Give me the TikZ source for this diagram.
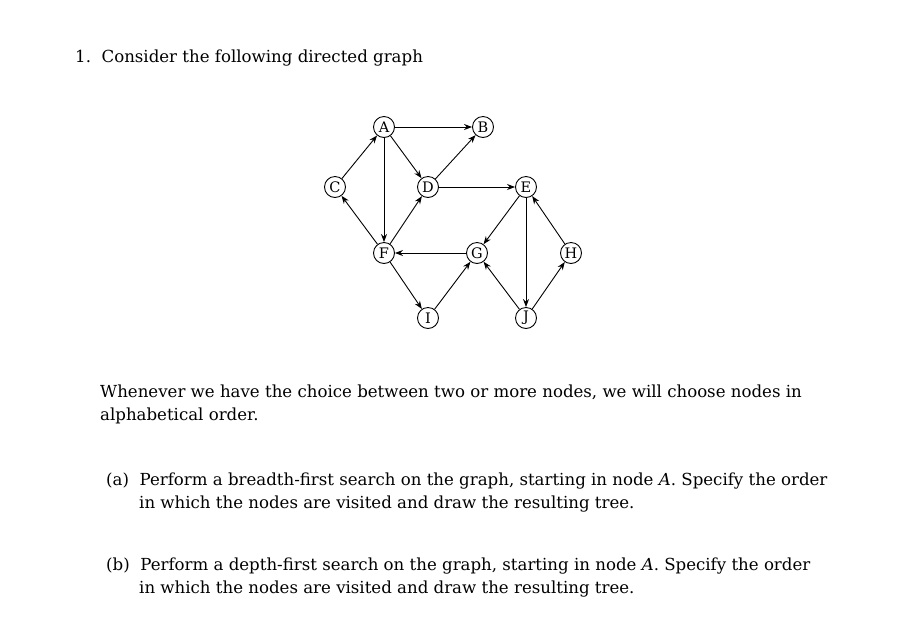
\documentclass[tikz,border=0pt]{standalone}
\usepackage{fontspec}
\setmainfont{DejaVu Serif}
\usetikzlibrary{arrows.meta}
\begin{document}
\begin{tikzpicture}[x=1pt,y=-1pt,
  vtx/.style={circle,draw,line width=0.9pt,inner sep=0pt,minimum size=21pt,font=\fontsize{14.5}{14.5}\selectfont},
  edge/.style={-{Stealth[length=8pt,width=6pt]},line width=0.9pt},
  txt/.style={anchor=base west,inner sep=0pt,font=\fontsize{16.6}{18}\selectfont}]
\useasboundingbox (0,0) rectangle (924,641);
\node[txt] (t1) at (75,62) {1.\ \ Consider the following directed graph};
\node[vtx] (A) at (384,127) {A};
\node[vtx] (B) at (483,127) {B};
\node[vtx] (C) at (335,187) {C};
\node[vtx] (D) at (428,187) {D};
\node[vtx] (E) at (526,187) {E};
\node[vtx] (F) at (384,253) {F};
\node[vtx] (G) at (477,253) {G};
\node[vtx] (H) at (571,253) {H};
\node[vtx] (I) at (428,318) {I};
\node[vtx] (J) at (526,318) {J};
\foreach \a/\b in {A/B,A/D,A/F,C/A,D/B,D/E,F/C,F/D,F/I,E/G,E/J,G/F,I/G,J/G,J/H,H/E}
  \draw[edge] (\a) -- (\b);
\node[txt] (p1) at (100,397) {Whenever we have the choice between two or more nodes, we will choose nodes in};
\node[txt] (p2) at (100,420) {alphabetical order.};
\node[txt] (a1) at (106,485) {(a)\ \ Perform a breadth-first search on the graph, starting in node \textit{A}. Specify the order};
\node[txt] (a2) at (139,508) {in which the nodes are visited and draw the resulting tree.};
\node[txt] (b1) at (106,570) {(b)\ \ Perform a depth-first search on the graph, starting in node \textit{A}. Specify the order};
\node[txt] (b2) at (139,593) {in which the nodes are visited and draw the resulting tree.};
\end{tikzpicture}
\end{document}
